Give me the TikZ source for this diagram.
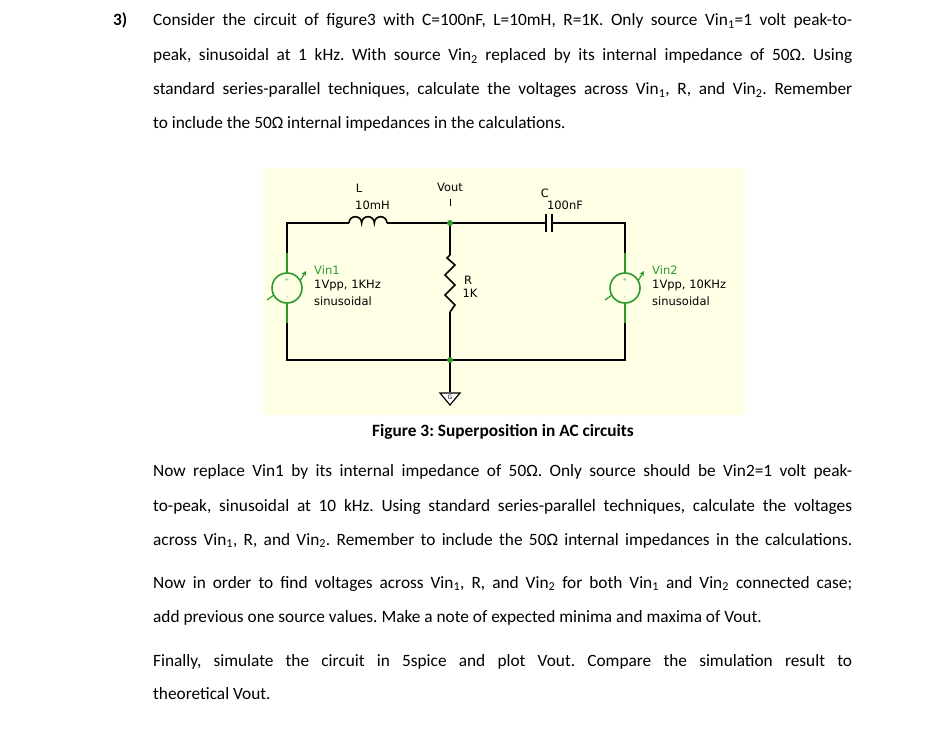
\documentclass[tikz,border=0pt]{standalone}
\usepackage{fontspec}
\setmainfont{Carlito}
\newfontfamily\ckt{DejaVu Sans}
\definecolor{bgy}{HTML}{FFFFE6}
\definecolor{sgreen}{HTML}{2E9A2E}
\tikzset{
 line/.style={anchor=base west,inner sep=0,font=\fontsize{17.3}{20}\selectfont},
 ckl/.style={inner sep=0,font=\ckt\fontsize{11.5}{17}\selectfont,align=left},
 wire/.style={line width=1.6pt},
 gw/.style={line width=1.6pt,sgreen}
}
\newcommand{\jl}[1]{\makebox[699pt][s]{#1}}
\frenchspacing
\begin{document}
\begin{tikzpicture}[x=1pt,y=-1pt]
\useasboundingbox (0,0) rectangle (952,746);
\fill[white] (0,0) rectangle (952,746);
% text
\node[line] (n3) at (113,26) {\textbf{3)}};
\node[line] (p1) at (153,26) {\jl{Consider the circuit of figure3 with C=100nF, L=10mH, R=1K. Only source Vin\textsubscript{1}=1 volt peak-to-}};
\node[line] (p2) at (153,61) {\jl{peak, sinusoidal at 1 kHz. With source Vin\textsubscript{2} replaced by its internal impedance of 50Ω. Using}};
\node[line] (p3) at (153,95) {\jl{standard series-parallel techniques, calculate the voltages across Vin\textsubscript{1}, R, and Vin\textsubscript{2}. Remember}};
\node[line] (p4) at (153,129) {to include the 50Ω internal impedances in the calculations.};
\node[line,anchor=base] (cap) at (503,436) {\textbf{Figure 3: Superposition in AC circuits}};
\node[line] (q1) at (153,476) {\jl{Now replace Vin1 by its internal impedance of 50Ω. Only source should be Vin2=1 volt peak-}};
\node[line] (q2) at (153,511) {\jl{to-peak, sinusoidal at 10 kHz. Using standard series-parallel techniques, calculate the voltages}};
\node[line] (q3) at (153,545) {\jl{across Vin\textsubscript{1}, R, and Vin\textsubscript{2}. Remember to include the 50Ω internal impedances in the calculations.}};
\node[line] (r1) at (153,588) {\jl{Now in order to find voltages across Vin\textsubscript{1}, R, and Vin\textsubscript{2} for both Vin\textsubscript{1} and Vin\textsubscript{2} connected case;}};
\node[line] (r2) at (153,622) {add previous one source values. Make a note of expected minima and maxima of Vout.};
\node[line] (s1) at (153,666) {\jl{Finally, simulate the circuit in 5spice and plot Vout. Compare the simulation result to}};
\node[line] (s2) at (153,699) {theoretical Vout.};
% circuit
\fill[bgy] (263,168) rectangle (745,415);
\coordinate (tl) at (287,223); \coordinate (tr) at (625,223);
\coordinate (bl) at (287,360); \coordinate (br) at (625,360);
\coordinate (tm) at (450,223); \coordinate (bm) at (450,360);
\coordinate (l1) at (349,223); \coordinate (l2) at (387,223);
\coordinate (c1) at (546,223); \coordinate (c2) at (552,223);
\coordinate (r1a) at (450,255); \coordinate (r1b) at (450,312);
\draw[wire] (287,253) -- (tl) -- (l1);
\draw[wire] (l2) -- (c1); \draw[wire] (c2) -- (tr) -- (625,253);
\draw[wire] (287,323) -- (bl) -- (br) -- (625,323);
\draw[wire] (tm) -- (r1a); \draw[wire] (r1b) -- (bm) -- (450,392);
\draw[wire] (l1) foreach \i in {0,1,2} {arc[start angle=180,end angle=360,radius=6.33]} ;
\draw[wire] (546,214) -- (546,232); \draw[wire] (552,214) -- (552,232);
\draw[wire] (r1a) -- (447,258) -- (455,265) -- (445,275) -- (455,285) -- (445,295) -- (455,305) -- (r1b);
\draw[line width=1.2pt,fill=white] (440,393) -- (460,393) -- (450,405) -- cycle;
\node[inner sep=0,font=\ckt\fontsize{6}{6}\selectfont] (g) at (450,397) {G};
\fill[sgreen] (tm) circle (3); \fill[sgreen] (bm) circle (3);
\foreach \x/\n in {287/s1,625/s2}{
 \draw[gw] (\x,253) -- (\x,273); \draw[gw] (\x,303) -- (\x,323);
 \draw[gw] (\x,288) circle (15);
 \draw[gw,line width=1.2pt] (\x-20,300) -- (\x-13,295);
 \draw[gw,line width=1.2pt,->,>=stealth] (\x+13,281) -- (\x+19,271);
 \node[inner sep=0,sgreen,font=\ckt\fontsize{5}{5}\selectfont] at (\x,280) {+};
 \node[inner sep=0,sgreen,font=\ckt\fontsize{5}{5}\selectfont] at (\x,298) {-};
}
\node[ckl] (Lt) at (359,188) {L};
\node[ckl,anchor=west] (Lv) at (355,205) {10mH};
\node[ckl] (Vo) at (450,187) {Vout};
\draw[line width=0.8pt] (450,199) -- (450,206);
\node[ckl] (Ct) at (545,193) {C};
\node[ckl] (Cv) at (565,205) {100nF};
\node[ckl,anchor=west,sgreen] (V1) at (314,270) {Vin1};
\node[ckl,anchor=north west] (V1t) at (314,280) {1Vpp, 1KHz\\sinusoidal};
\node[ckl,anchor=west,sgreen] (V2) at (652,270) {Vin2};
\node[ckl,anchor=north west] (V2t) at (652,280) {1Vpp, 10KHz\\sinusoidal};
\node[ckl] (Rt) at (468,280) {R};
\node[ckl] (Rv) at (470,293) {1K};
\end{tikzpicture}
\end{document}
